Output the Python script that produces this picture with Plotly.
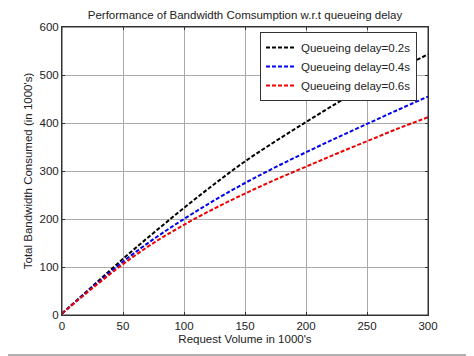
import plotly.graph_objects as go

request_volume = [0, 25, 50, 75, 100, 125, 150, 175, 200, 225, 250, 275, 300]
delay_02 = [3, 60, 117, 171, 223, 273, 320, 362, 402, 441, 478, 511, 543]
delay_04 = [3, 58, 111, 158, 200, 239, 275, 308, 339, 369, 398, 427, 455]
delay_06 = [3, 56, 106, 150, 188, 222, 253, 282, 309, 336, 362, 388, 412]
series_names = ["Queueing delay=0.2s", "Queueing delay=0.4s", "Queueing delay=0.6s"]
series_colors = ["#000000", "#0000ee", "#ee0000"]
x_ticks = [0, 50, 100, 150, 200, 250, 300]
y_ticks = [0, 100, 200, 300, 400, 500, 600]

FONT = "Liberation Sans, Arial, sans-serif"
FS = 11.5

# page body has an 8px margin, so the figure is 466x348
W, H = 466, 348
L, R, T, B = 54, 46, 19, 41
PW, PH = W - L - R, H - T - B

fig = go.Figure()
for name, vals, col in zip(series_names, [delay_02, delay_04, delay_06], series_colors):
    fig.add_trace(go.Scatter(x=request_volume, y=vals, mode="lines", name=name,
                             line=dict(color=col, width=2, dash="4px,2px", shape="spline")))

axis_common = dict(showline=True, linecolor="#333333", linewidth=1, mirror="ticks",
                   ticks="inside", ticklen=3, tickcolor="#333333", automargin=False,
                   showgrid=True, gridcolor="#aaaaaa", gridwidth=1, zeroline=False,
                   tickfont=dict(family=FONT, size=FS, color="#222222"))

fig.update_xaxes(range=[0, 300], tickvals=x_ticks,
                 title=dict(text="Request Volume in 1000's", font=dict(family=FONT, size=FS, color="#222222"), standoff=4),
                 **axis_common)
fig.update_yaxes(range=[0, 600], tickvals=y_ticks,
                 title=dict(text="Total Bandwidth Consumed (in 1000's)", font=dict(family=FONT, size=FS, color="#222222"), standoff=4),
                 **axis_common)

fig.update_layout(
    width=W, height=H,
    margin=dict(l=L, r=R, t=T, b=B, autoexpand=False),
    paper_bgcolor="white", plot_bgcolor="white",
    title=dict(text="Performance of Bandwidth Comsumption w.r.t queueing delay",
               font=dict(family=FONT, size=FS, color="#222222"),
               x=0.5, xanchor="center", y=1 - 7 / H, yanchor="middle", xref="paper", automargin=False),
    legend=dict(x=(417 - 8 - L) / PW, y=1 - (32 - 8 - T) / PH, xanchor="right", yanchor="top",
                bgcolor="white", bordercolor="#333333", borderwidth=1,
                font=dict(family=FONT, size=FS, color="#222222"),
                itemwidth=30, tracegroupgap=0),
    showlegend=True,
)

fig.add_shape(type="rect", xref="paper", yref="paper", x0=0, x1=1, y0=0, y1=1,
              line=dict(color="#333333", width=1))
# image frame (dark right edge, light bottom edge)
fig.add_shape(type="rect", xref="paper", yref="paper",
              x0=(W - 3 - L) / PW, x1=(W + 2 - L) / PW, y0=-(B + 2) / PH, y1=1 + (T + 2) / PH,
              fillcolor="#555555", line=dict(width=0), layer="above")
fig.add_shape(type="rect", xref="paper", yref="paper",
              x0=-(L + 2) / PW, x1=(W - 3 - L) / PW, y0=-(B + 2) / PH, y1=-(B - 2) / PH,
              fillcolor="#b0b0b0", line=dict(width=0), layer="above")

fig.write_html("out.html")
